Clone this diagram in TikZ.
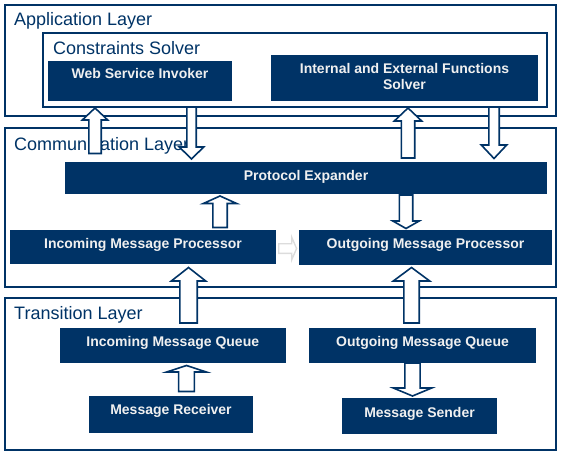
\documentclass[tikz,border=0pt]{standalone}
\usepackage{fontspec}
\setmainfont{Liberation Sans}
\definecolor{navy}{RGB}{0,51,102}
\definecolor{faint}{RGB}{220,220,220}
\definecolor{boxtxt}{RGB}{240,240,240}
\newcommand\blkv[6]{% cx, tail, base, tip, half shaft, half head
  \draw[blk] ({#1-#5},#2) -- ({#1-#5},#3) -- ({#1-#6},#3) -- (#1,#4) -- ({#1+#6},#3) -- ({#1+#5},#3) -- ({#1+#5},#2) -- cycle;}
\begin{document}
\begin{tikzpicture}[x=1pt,y=-1pt,
  layer/.style={draw=navy, line width=2pt, rectangle, inner sep=0pt, outer sep=0pt, anchor=north west},
  box/.style={fill=navy, rectangle, inner sep=0pt, outer sep=0pt, anchor=north west},
  btext/.style={anchor=north, inner sep=0pt, text=boxtxt, align=center, font=\fontsize{14}{16}\selectfont\bfseries},
  ltext/.style={anchor=base west, inner sep=0pt, text=navy, font=\fontsize{18}{20}\selectfont},
  blk/.style={draw=navy, fill=white, line width=1.6pt, line join=miter}]
\useasboundingbox (0,0) rectangle (562,453);
% layers
\node[layer, minimum width=551pt, minimum height=111pt] (app) at (5,5) {};
\node[layer, minimum width=504.5pt, minimum height=74pt] (cs) at (42.5,33) {};
\node[layer, minimum width=551pt, minimum height=159pt] (comm) at (5,128) {};
\node[layer, minimum width=551pt, minimum height=152pt] (trans) at (5,298) {};
\node[ltext] (appl) at (14,25) {Application Layer};
\node[ltext] (csl) at (53,54) {Constraints Solver};
\node[ltext] (comml) at (14,150) {Communication Layer};
\node[ltext] (transl) at (14,319.5) {Transition Layer};
% boxes
\node[box, minimum width=184pt, minimum height=40pt, label={[btext, yshift=-7.5pt]north:Web Service Invoker}] (wsi) at (48,61) {};
\node[box, minimum width=267pt, minimum height=46pt, label={[btext, yshift=-8pt]north:Internal and External Functions\\Solver}] (ief) at (271,55) {};
\node[box, minimum width=482pt, minimum height=32pt, label={[btext, yshift=-8.5pt]north:Protocol Expander}] (pe) at (65,162) {};
\node[box, minimum width=266pt, minimum height=34pt, label={[btext, yshift=-7.7pt]north:Incoming Message Processor}] (imp) at (10,230) {};
\node[box, minimum width=253pt, minimum height=35pt, label={[btext, yshift=-7.7pt]north:Outgoing Message Processor}] (omp) at (299,230) {};
\node[box, minimum width=225.5pt, minimum height=35.5pt, label={[btext, yshift=-8.5pt]north:Incoming Message Queue}] (imq) at (60,327.5) {};
\node[box, minimum width=227pt, minimum height=35.5pt, label={[btext, yshift=-8.5pt]north:Outgoing Message Queue}] (omq) at (309,327.5) {};
\node[box, minimum width=164pt, minimum height=37pt, label={[btext, yshift=-8pt]north:Message Receiver}] (mr) at (89,396) {};
\node[box, minimum width=155pt, minimum height=36pt, label={[btext, yshift=-9.4pt]north:Message Sender}] (ms) at (342,398) {};
% block arrows
\blkv{95}{153.5}{120}{108}{6.2}{12.7}
\blkv{191.5}{107}{147}{159}{4.7}{12.2}
\blkv{408}{158}{121}{108}{6.7}{13.7}
\blkv{494}{107}{145}{158.5}{5.2}{12.7}
\blkv{220}{227.5}{203.5}{196}{7.2}{16.7}
\blkv{406}{195}{221}{228.5}{6.7}{13.2}
\blkv{188.5}{323}{281}{267.5}{8.7}{17.2}
\blkv{411.5}{323}{281}{267.5}{7.7}{18.2}
\blkv{186.5}{391.5}{372}{365.5}{7.9}{19.8}
\blkv{412.5}{363}{388}{396}{7.6}{19.2}
% faint horizontal arrow
\draw[draw=faint, fill=white, line width=1.4pt] (278.7,243.7) -- (291.7,243.7) -- (291.7,237.2) -- (296.6,248.5) -- (291.7,259.8) -- (291.7,253.3) -- (278.7,253.3) -- cycle;
\end{tikzpicture}
\end{document}
